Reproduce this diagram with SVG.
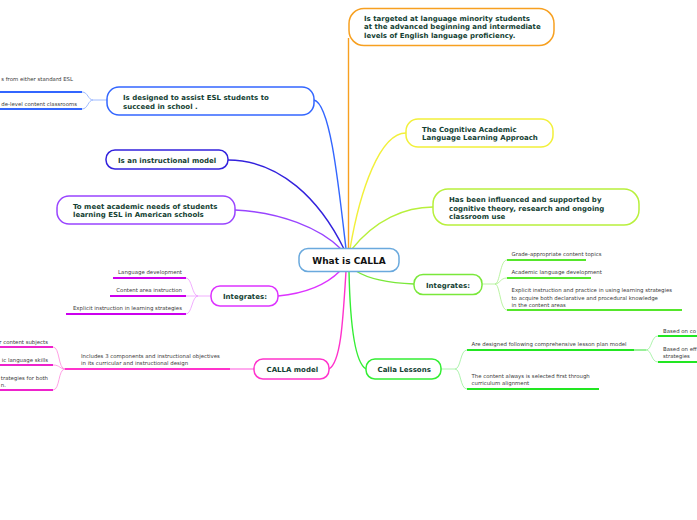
<svg xmlns="http://www.w3.org/2000/svg" width="697" height="520" viewBox="0 0 697 520">
<style>
.n{fill:#fff;stroke-width:1.5}
.t{font-family:"DejaVu Sans",Verdana,sans-serif;font-weight:bold;font-size:7px;fill:#143f33}
.c{font-family:"DejaVu Sans",Verdana,sans-serif;font-size:5.4px;fill:#3a3a3a}
.e{text-anchor:end}
.l{fill:none;stroke-width:1.4}
.u{fill:none;stroke-width:2}
.f{fill:none;stroke-width:0.8}
</style>
<rect width="697" height="520" fill="#fff"/>
<g id="connectors">
<path class="l" stroke="#f7a020" d="M348.5,249 V38"/>
<path class="l" stroke="#f2f03a" d="M350,249 C360,190 380,133 406,133"/>
<path class="l" stroke="#b8f03c" d="M352,249 C375,220 405,207 433,207"/>
<path class="l" stroke="#3366ff" d="M314,100 C330,104 338,180 346,249"/>
<path class="l" stroke="#3322dd" d="M228,160 C280,160 320,200 344,249"/>
<path class="l" stroke="#9944ff" d="M235,210 C280,212 320,228 341,249"/>
<path class="l" stroke="#dd33ff" d="M278,296 C310,293 328,283 340,271"/>
<path class="l" stroke="#ff33cc" d="M329,369 C341,362 343,320 346,271"/>
<path class="l" stroke="#33ee33" d="M366,369 C354,362 350,320 349,271"/>
<path class="l" stroke="#7ae83a" d="M414,284 C390,283 370,280 356,271"/>
<path class="f" stroke="#88aaff" d="M107,100 H93 C88,100 88,92 82,92 M93,100 C88,100 88,109 82,109"/>
<path class="u" stroke="#3366ff" d="M0,92 H82 M0,109 H82"/>
<path class="f" stroke="#a8f08a" d="M482,284 H495 C500,284 500,260 507,260 M495,284 C500,284 500,278 507,278 M495,284 C500,284 500,310 507,310"/>
<path class="u" stroke="#55e62b" d="M507,260 H586 M507,278 H591 M507,310 H682"/>
<path class="f" stroke="#ee99ff" d="M211,296 H198 C192,296 192,278 186,278 M198,296 C192,296 192,296 186,296 M198,296 C192,296 192,314 186,314"/>
<path class="u" stroke="#cc00ee" d="M113,278 H186 M110,296 H186 M66,314 H186"/>
<path class="u" stroke="#ffaaee" d="M230,369 H254"/>
<path class="u" stroke="#ff33cc" d="M65,369 H230"/>
<path class="f" stroke="#ff88dd" d="M65,369 C58,369 60,347 53,347 M65,369 C60,369 60,365 53,365 M65,369 C58,369 60,390 53,390"/>
<path class="u" stroke="#ee22cc" d="M0,347 H53 M0,365 H53 M0,390 H53"/>
<path class="f" stroke="#99f099" d="M441,369 H455 C461,369 460,350 467,350 M455,369 C461,369 460,389 467,389"/>
<path class="u" stroke="#22e622" d="M467,350 H634 M467,389 H599"/>
<path class="u" stroke="#99f099" d="M634,350 H646"/>
<path class="f" stroke="#99f099" d="M646,350 C652,350 651,336 658,336 M646,350 C652,350 651,362 658,362"/>
<path class="u" stroke="#22e622" d="M658,336 H697 M658,362 H697"/>
</g>
<g id="center">
<rect class="n" x="299" y="248.5" width="100" height="23" rx="9" stroke="#6aa9dd"/>
<text x="349" y="263.5" text-anchor="middle" style="font-family:'DejaVu Sans',Verdana,sans-serif;font-weight:bold;font-size:9px;fill:#111">What is CALLA</text>
</g>
<g id="n-targeted">
<rect class="n" x="349" y="8.5" width="205" height="37" rx="15" stroke="#f7a020"/>
<text class="t" x="364" y="20.5">Is targeted at language minority students</text>
<text class="t" x="364" y="29">at the advanced beginning and intermediate</text>
<text class="t" x="364" y="37.5">levels of English language proficiency.</text>
</g>
<g id="n-approach">
<rect class="n" x="406" y="119" width="147" height="28" rx="12" stroke="#f2f03a"/>
<text class="t" x="422" y="131.5">The Cognitive Academic</text>
<text class="t" x="422" y="139.5">Language Learning Approach</text>
</g>
<g id="n-influenced">
<rect class="n" x="433" y="189" width="206" height="36" rx="15" stroke="#b8f03c"/>
<text class="t" x="449" y="201.5">Has been influenced and supported by</text>
<text class="t" x="449" y="210.5">cognitive theory, research and ongoing</text>
<text class="t" x="449" y="219">classroom use</text>
</g>
<g id="n-integrates-right">
<rect class="n" x="414" y="274.5" width="68" height="20" rx="9" stroke="#7ae83a"/>
<text class="t" x="426" y="288">Integrates:</text>
<text class="c" x="511.5" y="256">Grade-appropriate content topics</text>
<text class="c" x="511.5" y="274">Academic language development</text>
<text class="c" x="511.5" y="292">Explicit instruction and practice in using learning strategies</text>
<text class="c" x="511.5" y="299.5">to acquire both declarative and procedural knowledge</text>
<text class="c" x="511.5" y="307">in the content areas</text>
</g>
<g id="n-lessons">
<rect class="n" x="366" y="359" width="75" height="20" rx="9" stroke="#33ee33"/>
<text class="t" x="377.5" y="372">Calla Lessons</text>
<text class="c" x="471.5" y="346">Are designed following comprehensive lesson plan model</text>
<text class="c" x="471.5" y="378">The content always is selected first through</text>
<text class="c" x="471.5" y="385">curriculum alignment</text>
<text class="c" x="663" y="333">Based on co</text>
<text class="c" x="663" y="351">Based on eff</text>
<text class="c" x="663" y="358">strategies</text>
</g>
<g id="n-model">
<rect class="n" x="254" y="359" width="75" height="20" rx="9" stroke="#ff33cc"/>
<text class="t" x="266.5" y="372">CALLA model</text>
<text class="c" x="81" y="358">Includes 3 components and instructional objectives</text>
<text class="c" x="81" y="365">in its curricular and instructional design</text>
<text class="c e" x="48" y="344">r content subjects</text>
<text class="c e" x="48" y="362">ic language skills</text>
<text class="c e" x="48" y="380">trategies for both</text>
<text class="c e" x="6" y="386.5">n.</text>
</g>
<g id="n-integrates-left">
<rect class="n" x="211" y="286" width="67" height="20" rx="9" stroke="#dd33ff"/>
<text class="t" x="223" y="299">Integrates:</text>
<text class="c e" x="182" y="274">Language development</text>
<text class="c e" x="182" y="292">Content area instruction</text>
<text class="c e" x="182" y="310">Explicit instruction in learning strategies</text>
</g>
<g id="n-meet">
<rect class="n" x="57" y="196" width="178" height="28" rx="12" stroke="#9944ff"/>
<text class="t" x="73" y="208.5">To meet academic needs of students</text>
<text class="t" x="73" y="217">learning ESL in American schools</text>
</g>
<g id="n-instructional">
<rect class="n" x="106" y="150" width="122" height="19" rx="9" stroke="#3322dd"/>
<text class="t" x="118" y="163">Is an instructional model</text>
</g>
<g id="n-designed">
<rect class="n" x="107" y="87" width="207" height="28" rx="12" stroke="#3366ff"/>
<text class="t" x="123" y="100">Is designed to assist ESL students to</text>
<text class="t" x="123" y="108.5">succeed in school .</text>
<text class="c e" x="73" y="81">s from either standard ESL</text>
<text class="c e" x="77" y="106">de-level content classrooms</text>
</g>
</svg>
